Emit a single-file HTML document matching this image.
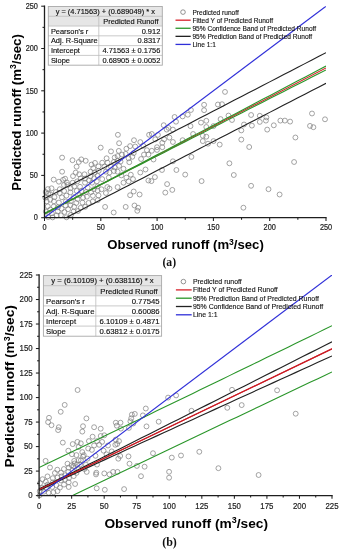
<!DOCTYPE html><html><head><meta charset="utf-8"><title>Predicted vs observed runoff</title><style>*{margin:0;padding:0}html,body{width:341px;height:550px;overflow:hidden;background:#fff}
svg{display:block;filter:blur(0.3px)}
text{font-family:"Liberation Sans",Arial,sans-serif}
.tk{fill:#222;stroke:#222;stroke-width:0.18px}
.tb{fill:#111;stroke:#111;stroke-width:0.15px}
.lg{fill:#111;stroke:#111;stroke-width:0.12px}
.ti{font-weight:bold;fill:#000}
.cap{font-family:"Liberation Serif",serif;font-size:11.4px;font-weight:bold;fill:#111}
</style></head><body><svg width="341" height="550" viewBox="0 0 341 550">
<defs><clipPath id="ca"><rect x="44.50" y="6.20" width="281.50" height="211.50"/></clipPath>
<clipPath id="cb"><rect x="39.10" y="275.00" width="292.90" height="220.60"/></clipPath></defs>
<rect width="341" height="550" fill="#fff"/>
<g fill="none" stroke="#7c7c7c" stroke-width="0.7">
<circle cx="251.1" cy="115.0" r="2.45"/>
<circle cx="259.8" cy="115.8" r="2.45"/>
<circle cx="266.4" cy="117.4" r="2.45"/>
<circle cx="244.0" cy="124.5" r="2.45"/>
<circle cx="251.9" cy="125.6" r="2.45"/>
<circle cx="259.8" cy="121.9" r="2.45"/>
<circle cx="265.9" cy="120.6" r="2.45"/>
<circle cx="273.8" cy="125.3" r="2.45"/>
<circle cx="280.4" cy="120.6" r="2.45"/>
<circle cx="284.9" cy="120.6" r="2.45"/>
<circle cx="290.1" cy="121.6" r="2.45"/>
<circle cx="267.2" cy="129.6" r="2.45"/>
<circle cx="241.3" cy="130.4" r="2.45"/>
<circle cx="312.0" cy="113.5" r="2.45"/>
<circle cx="310.0" cy="125.9" r="2.45"/>
<circle cx="313.4" cy="127.2" r="2.45"/>
<circle cx="325.0" cy="119.3" r="2.45"/>
<circle cx="241.3" cy="139.6" r="2.45"/>
<circle cx="295.4" cy="137.5" r="2.45"/>
<circle cx="249.2" cy="147.0" r="2.45"/>
<circle cx="294.1" cy="162.0" r="2.45"/>
<circle cx="251.1" cy="185.8" r="2.45"/>
<circle cx="268.5" cy="189.2" r="2.45"/>
<circle cx="279.6" cy="194.5" r="2.45"/>
<circle cx="243.4" cy="207.7" r="2.45"/>
<circle cx="225.0" cy="91.9" r="2.45"/>
<circle cx="217.9" cy="104.5" r="2.45"/>
<circle cx="222.0" cy="104.2" r="2.45"/>
<circle cx="220.6" cy="119.1" r="2.45"/>
<circle cx="228.5" cy="115.6" r="2.45"/>
<circle cx="232.0" cy="120.0" r="2.45"/>
<circle cx="213.5" cy="126.1" r="2.45"/>
<circle cx="219.7" cy="144.6" r="2.45"/>
<circle cx="213.5" cy="141.1" r="2.45"/>
<circle cx="229.4" cy="163.3" r="2.45"/>
<circle cx="233.8" cy="175.0" r="2.45"/>
<circle cx="204.1" cy="104.8" r="2.45"/>
<circle cx="204.1" cy="110.2" r="2.45"/>
<circle cx="190.9" cy="110.0" r="2.45"/>
<circle cx="187.8" cy="114.7" r="2.45"/>
<circle cx="182.6" cy="116.4" r="2.45"/>
<circle cx="174.6" cy="117.0" r="2.45"/>
<circle cx="176.0" cy="121.7" r="2.45"/>
<circle cx="163.7" cy="125.2" r="2.45"/>
<circle cx="168.5" cy="127.9" r="2.45"/>
<circle cx="172.9" cy="129.6" r="2.45"/>
<circle cx="166.7" cy="129.6" r="2.45"/>
<circle cx="201.0" cy="122.6" r="2.45"/>
<circle cx="206.3" cy="120.8" r="2.45"/>
<circle cx="206.3" cy="127.0" r="2.45"/>
<circle cx="190.5" cy="126.1" r="2.45"/>
<circle cx="193.1" cy="134.0" r="2.45"/>
<circle cx="151.8" cy="134.0" r="2.45"/>
<circle cx="157.9" cy="134.9" r="2.45"/>
<circle cx="155.3" cy="139.3" r="2.45"/>
<circle cx="164.1" cy="139.3" r="2.45"/>
<circle cx="162.3" cy="142.8" r="2.45"/>
<circle cx="169.4" cy="137.6" r="2.45"/>
<circle cx="172.9" cy="142.0" r="2.45"/>
<circle cx="182.6" cy="140.2" r="2.45"/>
<circle cx="202.8" cy="135.8" r="2.45"/>
<circle cx="206.3" cy="136.7" r="2.45"/>
<circle cx="202.8" cy="141.1" r="2.45"/>
<circle cx="157.0" cy="147.2" r="2.45"/>
<circle cx="162.3" cy="147.2" r="2.45"/>
<circle cx="151.8" cy="150.8" r="2.45"/>
<circle cx="157.0" cy="149.9" r="2.45"/>
<circle cx="153.5" cy="159.5" r="2.45"/>
<circle cx="191.4" cy="156.9" r="2.45"/>
<circle cx="172.9" cy="161.3" r="2.45"/>
<circle cx="208.0" cy="143.7" r="2.45"/>
<circle cx="162.0" cy="170.0" r="2.45"/>
<circle cx="176.4" cy="170.0" r="2.45"/>
<circle cx="185.2" cy="174.6" r="2.45"/>
<circle cx="154.9" cy="177.1" r="2.45"/>
<circle cx="151.4" cy="181.1" r="2.45"/>
<circle cx="167.1" cy="184.1" r="2.45"/>
<circle cx="172.3" cy="189.9" r="2.45"/>
<circle cx="165.3" cy="192.6" r="2.45"/>
<circle cx="201.6" cy="181.1" r="2.45"/>
<circle cx="117.9" cy="134.8" r="2.45"/>
<circle cx="119.1" cy="143.2" r="2.45"/>
<circle cx="100.7" cy="147.6" r="2.45"/>
<circle cx="134.0" cy="140.2" r="2.45"/>
<circle cx="140.3" cy="142.1" r="2.45"/>
<circle cx="149.1" cy="134.8" r="2.45"/>
<circle cx="111.0" cy="151.4" r="2.45"/>
<circle cx="118.8" cy="150.9" r="2.45"/>
<circle cx="126.4" cy="148.7" r="2.45"/>
<circle cx="130.1" cy="146.1" r="2.45"/>
<circle cx="135.2" cy="146.5" r="2.45"/>
<circle cx="143.3" cy="145.8" r="2.45"/>
<circle cx="146.9" cy="150.2" r="2.45"/>
<circle cx="106.6" cy="158.3" r="2.45"/>
<circle cx="102.2" cy="162.7" r="2.45"/>
<circle cx="107.6" cy="162.7" r="2.45"/>
<circle cx="114.7" cy="157.5" r="2.45"/>
<circle cx="117.6" cy="156.1" r="2.45"/>
<circle cx="122.0" cy="154.6" r="2.45"/>
<circle cx="125.7" cy="153.9" r="2.45"/>
<circle cx="132.3" cy="156.8" r="2.45"/>
<circle cx="133.7" cy="153.1" r="2.45"/>
<circle cx="128.6" cy="158.3" r="2.45"/>
<circle cx="144.0" cy="154.6" r="2.45"/>
<circle cx="141.1" cy="159.0" r="2.45"/>
<circle cx="148.4" cy="154.6" r="2.45"/>
<circle cx="120.5" cy="161.6" r="2.45"/>
<circle cx="113.9" cy="161.9" r="2.45"/>
<circle cx="117.6" cy="160.7" r="2.45"/>
<circle cx="104.4" cy="166.6" r="2.45"/>
<circle cx="111.0" cy="166.6" r="2.45"/>
<circle cx="114.7" cy="167.3" r="2.45"/>
<circle cx="119.1" cy="165.9" r="2.45"/>
<circle cx="123.5" cy="168.8" r="2.45"/>
<circle cx="105.9" cy="171.7" r="2.45"/>
<circle cx="109.5" cy="172.5" r="2.45"/>
<circle cx="113.9" cy="171.0" r="2.45"/>
<circle cx="117.6" cy="171.7" r="2.45"/>
<circle cx="121.3" cy="175.4" r="2.45"/>
<circle cx="102.2" cy="179.1" r="2.45"/>
<circle cx="108.8" cy="177.6" r="2.45"/>
<circle cx="101.5" cy="189.3" r="2.45"/>
<circle cx="107.3" cy="187.1" r="2.45"/>
<circle cx="109.5" cy="188.6" r="2.45"/>
<circle cx="105.9" cy="193.0" r="2.45"/>
<circle cx="117.6" cy="187.1" r="2.45"/>
<circle cx="123.5" cy="182.7" r="2.45"/>
<circle cx="128.6" cy="181.3" r="2.45"/>
<circle cx="130.8" cy="174.7" r="2.45"/>
<circle cx="133.0" cy="179.1" r="2.45"/>
<circle cx="126.4" cy="177.6" r="2.45"/>
<circle cx="140.3" cy="172.5" r="2.45"/>
<circle cx="145.5" cy="169.5" r="2.45"/>
<circle cx="148.4" cy="180.5" r="2.45"/>
<circle cx="130.1" cy="195.2" r="2.45"/>
<circle cx="133.7" cy="191.5" r="2.45"/>
<circle cx="139.6" cy="194.5" r="2.45"/>
<circle cx="105.1" cy="206.9" r="2.45"/>
<circle cx="125.7" cy="206.9" r="2.45"/>
<circle cx="134.5" cy="205.5" r="2.45"/>
<circle cx="138.1" cy="207.7" r="2.45"/>
<circle cx="129.3" cy="162.2" r="2.45"/>
<circle cx="113.7" cy="212.5" r="2.45"/>
<circle cx="137.3" cy="210.8" r="2.45"/>
<circle cx="62.1" cy="157.6" r="2.45"/>
<circle cx="72.5" cy="160.2" r="2.45"/>
<circle cx="78.8" cy="162.0" r="2.45"/>
<circle cx="81.3" cy="159.4" r="2.45"/>
<circle cx="85.7" cy="160.8" r="2.45"/>
<circle cx="76.6" cy="166.7" r="2.45"/>
<circle cx="62.1" cy="171.7" r="2.45"/>
<circle cx="73.0" cy="176.1" r="2.45"/>
<circle cx="75.7" cy="172.6" r="2.45"/>
<circle cx="79.2" cy="174.3" r="2.45"/>
<circle cx="84.5" cy="174.3" r="2.45"/>
<circle cx="91.5" cy="164.6" r="2.45"/>
<circle cx="95.0" cy="162.9" r="2.45"/>
<circle cx="93.3" cy="168.2" r="2.45"/>
<circle cx="98.5" cy="166.4" r="2.45"/>
<circle cx="53.7" cy="179.6" r="2.45"/>
<circle cx="65.1" cy="178.7" r="2.45"/>
<circle cx="90.6" cy="171.7" r="2.45"/>
<circle cx="58.9" cy="181.7" r="2.45"/>
<circle cx="66.9" cy="182.5" r="2.45"/>
<circle cx="47.9" cy="189.1" r="2.45"/>
<circle cx="51.5" cy="188.3" r="2.45"/>
<circle cx="45.7" cy="192.0" r="2.45"/>
<circle cx="55.9" cy="192.0" r="2.45"/>
<circle cx="63.1" cy="179.8" r="2.45"/>
<circle cx="48.2" cy="193.4" r="2.45"/>
<circle cx="50.4" cy="194.3" r="2.45"/>
<circle cx="64.0" cy="185.0" r="2.45"/>
<circle cx="67.5" cy="185.0" r="2.45"/>
<circle cx="74.2" cy="186.5" r="2.45"/>
<circle cx="68.1" cy="209.2" r="2.45"/>
<circle cx="98.7" cy="170.8" r="2.45"/>
<circle cx="92.1" cy="182.7" r="2.45"/>
<circle cx="61.6" cy="208.7" r="2.45"/>
<circle cx="54.5" cy="197.1" r="2.45"/>
<circle cx="80.0" cy="186.8" r="2.45"/>
<circle cx="61.9" cy="197.3" r="2.45"/>
<circle cx="88.6" cy="202.9" r="2.45"/>
<circle cx="73.6" cy="211.6" r="2.45"/>
<circle cx="85.0" cy="182.7" r="2.45"/>
<circle cx="46.7" cy="201.4" r="2.45"/>
<circle cx="86.9" cy="196.7" r="2.45"/>
<circle cx="83.1" cy="197.7" r="2.45"/>
<circle cx="76.7" cy="190.9" r="2.45"/>
<circle cx="70.8" cy="201.2" r="2.45"/>
<circle cx="65.9" cy="201.4" r="2.45"/>
<circle cx="47.8" cy="206.3" r="2.45"/>
<circle cx="64.4" cy="212.0" r="2.45"/>
<circle cx="97.7" cy="175.9" r="2.45"/>
<circle cx="77.2" cy="181.4" r="2.45"/>
<circle cx="50.2" cy="199.7" r="2.45"/>
<circle cx="45.9" cy="211.5" r="2.45"/>
<circle cx="70.4" cy="192.3" r="2.45"/>
<circle cx="90.5" cy="176.4" r="2.45"/>
<circle cx="53.8" cy="206.5" r="2.45"/>
<circle cx="74.1" cy="206.8" r="2.45"/>
<circle cx="58.9" cy="202.6" r="2.45"/>
<circle cx="97.6" cy="190.5" r="2.45"/>
<circle cx="97.5" cy="186.4" r="2.45"/>
<circle cx="91.1" cy="192.1" r="2.45"/>
<circle cx="80.7" cy="207.8" r="2.45"/>
<circle cx="86.1" cy="192.0" r="2.45"/>
<circle cx="51.8" cy="213.3" r="2.45"/>
<circle cx="64.1" cy="191.0" r="2.45"/>
<circle cx="71.0" cy="214.8" r="2.45"/>
<circle cx="96.8" cy="181.3" r="2.45"/>
<circle cx="56.7" cy="215.4" r="2.45"/>
<circle cx="48.1" cy="217.0" r="2.45"/>
<circle cx="76.2" cy="203.0" r="2.45"/>
<circle cx="92.8" cy="201.5" r="2.45"/>
<circle cx="98.5" cy="195.4" r="2.45"/>
<circle cx="82.4" cy="202.6" r="2.45"/>
<circle cx="50.3" cy="209.6" r="2.45"/>
<circle cx="85.0" cy="178.6" r="2.45"/>
<circle cx="94.1" cy="178.3" r="2.45"/>
<circle cx="73.6" cy="197.2" r="2.45"/>
<circle cx="97.7" cy="200.2" r="2.45"/>
<circle cx="60.9" cy="215.3" r="2.45"/>
<circle cx="66.5" cy="217.3" r="2.45"/>
<circle cx="77.6" cy="199.0" r="2.45"/>
<circle cx="80.7" cy="178.5" r="2.45"/>
<circle cx="66.4" cy="195.6" r="2.45"/>
<circle cx="85.2" cy="206.8" r="2.45"/>
<circle cx="92.9" cy="195.8" r="2.45"/>
<circle cx="87.7" cy="187.6" r="2.45"/>
<circle cx="81.5" cy="191.0" r="2.45"/>
<circle cx="65.7" cy="205.5" r="2.45"/>
<circle cx="93.8" cy="189.2" r="2.45"/>
<circle cx="53.9" cy="201.3" r="2.45"/>
<circle cx="45.3" cy="197.7" r="2.45"/>
<circle cx="59.7" cy="193.1" r="2.45"/>
<circle cx="78.0" cy="211.0" r="2.45"/>
<circle cx="79.4" cy="195.2" r="2.45"/>
<circle cx="57.8" cy="211.4" r="2.45"/>
<circle cx="70.6" cy="188.2" r="2.45"/>
<circle cx="94.5" cy="172.5" r="2.45"/>
<circle cx="72.7" cy="182.7" r="2.45"/>
<circle cx="57.9" cy="207.3" r="2.45"/>
<circle cx="59.8" cy="189.2" r="2.45"/>
<circle cx="70.4" cy="205.1" r="2.45"/>
<circle cx="89.0" cy="180.2" r="2.45"/>
<circle cx="52.6" cy="217.4" r="2.45"/>
</g>
<g clip-path="url(#ca)">
<line x1="44.50" y1="213.71" x2="326.00" y2="67.98" stroke="#d8202a" stroke-width="1.1"/>
<polyline points="44.50,213.36 51.54,209.76 58.58,206.16 65.61,202.56 72.65,198.95 79.69,195.32 86.72,191.68 93.76,188.02 100.80,184.35 107.84,180.67 114.88,176.98 121.91,173.29 128.95,169.60 135.99,165.90 143.03,162.21 150.06,158.51 157.10,154.82 164.14,151.12 171.18,147.42 178.21,143.72 185.25,140.03 192.29,136.33 199.32,132.63 206.36,128.93 213.40,125.23 220.44,121.54 227.47,117.84 234.51,114.14 241.55,110.44 248.59,106.74 255.62,103.04 262.66,99.35 269.70,95.65 276.74,91.95 283.77,88.25 290.81,84.55 297.85,80.85 304.89,77.16 311.93,73.46 318.96,69.76 326.00,66.06" fill="none" stroke="#2a962a" stroke-width="1.1"/>
<polyline points="44.50,214.06 51.54,210.37 58.58,206.69 65.61,203.00 72.65,199.33 79.69,195.67 86.72,192.02 93.76,188.39 100.80,184.78 107.84,181.17 114.88,177.57 121.91,173.98 128.95,170.38 135.99,166.79 143.03,163.20 150.06,159.61 157.10,156.02 164.14,152.43 171.18,148.84 178.21,145.25 185.25,141.66 192.29,138.07 199.32,134.48 206.36,130.89 213.40,127.31 220.44,123.72 227.47,120.13 234.51,116.54 241.55,112.95 248.59,109.36 255.62,105.78 262.66,102.19 269.70,98.60 276.74,95.01 283.77,91.42 290.81,87.83 297.85,84.25 304.89,80.66 311.93,77.07 318.96,73.48 326.00,69.89" fill="none" stroke="#2a962a" stroke-width="1.1"/>
<polyline points="44.50,198.52 51.54,194.88 58.58,191.24 65.61,187.59 72.65,183.95 79.69,180.31 86.72,176.66 93.76,173.02 100.80,169.38 107.84,165.73 114.88,162.09 121.91,158.44 128.95,154.80 135.99,151.15 143.03,147.51 150.06,143.86 157.10,140.22 164.14,136.57 171.18,132.93 178.21,129.28 185.25,125.64 192.29,121.99 199.32,118.34 206.36,114.70 213.40,111.05 220.44,107.40 227.47,103.75 234.51,100.11 241.55,96.46 248.59,92.81 255.62,89.16 262.66,85.51 269.70,81.87 276.74,78.22 283.77,74.57 290.81,70.92 297.85,67.27 304.89,63.62 311.93,59.97 318.96,56.32 326.00,52.67" fill="none" stroke="#222222" stroke-width="1.1"/>
<polyline points="44.50,228.90 51.54,225.26 58.58,221.61 65.61,217.97 72.65,214.32 79.69,210.68 86.72,207.04 93.76,203.39 100.80,199.75 107.84,196.11 114.88,192.47 121.91,188.82 128.95,185.18 135.99,181.54 143.03,177.90 150.06,174.26 157.10,170.61 164.14,166.97 171.18,163.33 178.21,159.69 185.25,156.05 192.29,152.41 199.32,148.77 206.36,145.13 213.40,141.49 220.44,137.85 227.47,134.21 234.51,130.57 241.55,126.93 248.59,123.30 255.62,119.66 262.66,116.02 269.70,112.38 276.74,108.74 283.77,105.11 290.81,101.47 297.85,97.83 304.89,94.19 311.93,90.56 318.96,86.92 326.00,83.28" fill="none" stroke="#222222" stroke-width="1.1"/>
<line x1="44.50" y1="217.70" x2="326.00" y2="6.20" stroke="#2f2fd8" stroke-width="1.1"/>
</g>
<line x1="41.20" y1="217.70" x2="44.50" y2="217.70" stroke="#1e1e1e" stroke-width="1.05"/>
<text transform="translate(37.90 220.40) scale(1 1.14)" text-anchor="end" class="tk" style="font-size:7.35px">0</text>
<line x1="42.50" y1="196.55" x2="44.50" y2="196.55" stroke="#1e1e1e" stroke-width="1.05"/>
<line x1="41.20" y1="175.40" x2="44.50" y2="175.40" stroke="#1e1e1e" stroke-width="1.05"/>
<text transform="translate(37.90 178.10) scale(1 1.14)" text-anchor="end" class="tk" style="font-size:7.35px">50</text>
<line x1="42.50" y1="154.25" x2="44.50" y2="154.25" stroke="#1e1e1e" stroke-width="1.05"/>
<line x1="41.20" y1="133.10" x2="44.50" y2="133.10" stroke="#1e1e1e" stroke-width="1.05"/>
<text transform="translate(37.90 135.80) scale(1 1.14)" text-anchor="end" class="tk" style="font-size:7.35px">100</text>
<line x1="42.50" y1="111.95" x2="44.50" y2="111.95" stroke="#1e1e1e" stroke-width="1.05"/>
<line x1="41.20" y1="90.80" x2="44.50" y2="90.80" stroke="#1e1e1e" stroke-width="1.05"/>
<text transform="translate(37.90 93.50) scale(1 1.14)" text-anchor="end" class="tk" style="font-size:7.35px">150</text>
<line x1="42.50" y1="69.65" x2="44.50" y2="69.65" stroke="#1e1e1e" stroke-width="1.05"/>
<line x1="41.20" y1="48.50" x2="44.50" y2="48.50" stroke="#1e1e1e" stroke-width="1.05"/>
<text transform="translate(37.90 51.20) scale(1 1.14)" text-anchor="end" class="tk" style="font-size:7.35px">200</text>
<line x1="42.50" y1="27.35" x2="44.50" y2="27.35" stroke="#1e1e1e" stroke-width="1.05"/>
<line x1="41.20" y1="6.20" x2="44.50" y2="6.20" stroke="#1e1e1e" stroke-width="1.05"/>
<text transform="translate(37.90 8.90) scale(1 1.14)" text-anchor="end" class="tk" style="font-size:7.35px">250</text>
<line x1="44.50" y1="217.70" x2="44.50" y2="221.00" stroke="#1e1e1e" stroke-width="1.05"/>
<text transform="translate(44.50 230.30) scale(1 1.14)" text-anchor="middle" class="tk" style="font-size:7.35px">0</text>
<line x1="72.65" y1="217.70" x2="72.65" y2="219.70" stroke="#1e1e1e" stroke-width="1.05"/>
<line x1="100.80" y1="217.70" x2="100.80" y2="221.00" stroke="#1e1e1e" stroke-width="1.05"/>
<text transform="translate(100.80 230.30) scale(1 1.14)" text-anchor="middle" class="tk" style="font-size:7.35px">50</text>
<line x1="128.95" y1="217.70" x2="128.95" y2="219.70" stroke="#1e1e1e" stroke-width="1.05"/>
<line x1="157.10" y1="217.70" x2="157.10" y2="221.00" stroke="#1e1e1e" stroke-width="1.05"/>
<text transform="translate(157.10 230.30) scale(1 1.14)" text-anchor="middle" class="tk" style="font-size:7.35px">100</text>
<line x1="185.25" y1="217.70" x2="185.25" y2="219.70" stroke="#1e1e1e" stroke-width="1.05"/>
<line x1="213.40" y1="217.70" x2="213.40" y2="221.00" stroke="#1e1e1e" stroke-width="1.05"/>
<text transform="translate(213.40 230.30) scale(1 1.14)" text-anchor="middle" class="tk" style="font-size:7.35px">150</text>
<line x1="241.55" y1="217.70" x2="241.55" y2="219.70" stroke="#1e1e1e" stroke-width="1.05"/>
<line x1="269.70" y1="217.70" x2="269.70" y2="221.00" stroke="#1e1e1e" stroke-width="1.05"/>
<text transform="translate(269.70 230.30) scale(1 1.14)" text-anchor="middle" class="tk" style="font-size:7.35px">200</text>
<line x1="297.85" y1="217.70" x2="297.85" y2="219.70" stroke="#1e1e1e" stroke-width="1.05"/>
<line x1="326.00" y1="217.70" x2="326.00" y2="221.00" stroke="#1e1e1e" stroke-width="1.05"/>
<text transform="translate(326.00 230.30) scale(1 1.14)" text-anchor="middle" class="tk" style="font-size:7.35px">250</text>
<path d="M44.50 6.20 V217.70 H326.00" fill="none" stroke="#1e1e1e" stroke-width="1.3" stroke-linecap="square"/>
<rect x="48.30" y="6.50" width="114.00" height="19.56" fill="#e6e6e6"/>
<rect x="48.30" y="26.06" width="114.00" height="39.12" fill="#fff"/>
<line x1="48.30" y1="16.28" x2="162.30" y2="16.28" stroke="#bcbcbc" stroke-width="0.8"/>
<line x1="48.30" y1="26.06" x2="162.30" y2="26.06" stroke="#bcbcbc" stroke-width="0.8"/>
<line x1="48.30" y1="35.84" x2="162.30" y2="35.84" stroke="#bcbcbc" stroke-width="0.8"/>
<line x1="48.30" y1="45.62" x2="162.30" y2="45.62" stroke="#bcbcbc" stroke-width="0.8"/>
<line x1="48.30" y1="55.40" x2="162.30" y2="55.40" stroke="#bcbcbc" stroke-width="0.8"/>
<line x1="98.80" y1="16.28" x2="98.80" y2="65.18" stroke="#bcbcbc" stroke-width="0.8"/>
<rect x="48.30" y="6.50" width="114.00" height="58.68" fill="none" stroke="#a8a8a8" stroke-width="0.9"/>
<text x="105.30" y="14.13" text-anchor="middle" class="tb" style="font-size:7.45px">y = (4.71563) + (0.689049) * x</text>
<text x="130.85" y="23.91" text-anchor="middle" class="tb" style="font-size:7.45px">Predicted Runoff</text>
<text x="50.90" y="33.69" class="tb" style="font-size:7.45px">Pearson's r</text>
<text x="160.30" y="33.69" text-anchor="end" class="tb" style="font-size:7.45px">0.912</text>
<text x="50.90" y="43.47" class="tb" style="font-size:7.45px">Adj. R-Square</text>
<text x="160.30" y="43.47" text-anchor="end" class="tb" style="font-size:7.45px">0.8317</text>
<text x="50.90" y="53.25" class="tb" style="font-size:7.45px">Intercept</text>
<text x="160.30" y="53.25" text-anchor="end" class="tb" style="font-size:7.45px">4.71563 ± 0.1756</text>
<text x="50.90" y="63.03" class="tb" style="font-size:7.45px">Slope</text>
<text x="160.30" y="63.03" text-anchor="end" class="tb" style="font-size:7.45px">0.68905 ± 0.0052</text>
<circle cx="183.00" cy="12.10" r="2.3" fill="none" stroke="#707070" stroke-width="0.75"/>
<text x="192.40" y="14.80" class="lg" style="font-size:6.6px">Predicted runoff</text>
<line x1="175.50" y1="20.18" x2="190.70" y2="20.18" stroke="#d8202a" stroke-width="1.3"/>
<text x="192.40" y="22.88" class="lg" style="font-size:6.6px">Fitted Y of Predicted Runoff</text>
<line x1="175.50" y1="28.26" x2="190.70" y2="28.26" stroke="#2a962a" stroke-width="1.3"/>
<text x="192.40" y="30.96" class="lg" style="font-size:6.6px">95% Confidence Band of Predicted Runoff</text>
<line x1="175.50" y1="36.34" x2="190.70" y2="36.34" stroke="#222222" stroke-width="1.3"/>
<text x="192.40" y="39.04" class="lg" style="font-size:6.6px">95% Prediction Band of Predicted Runoff</text>
<line x1="175.50" y1="44.42" x2="190.70" y2="44.42" stroke="#2f2fd8" stroke-width="1.3"/>
<text x="192.40" y="47.12" class="lg" style="font-size:6.6px">Line 1:1</text>
<g fill="none" stroke="#7c7c7c" stroke-width="0.7">
<circle cx="77.6" cy="390.0" r="2.45"/>
<circle cx="64.7" cy="404.9" r="2.45"/>
<circle cx="60.7" cy="411.8" r="2.45"/>
<circle cx="49.0" cy="417.8" r="2.45"/>
<circle cx="48.1" cy="422.1" r="2.45"/>
<circle cx="51.5" cy="425.2" r="2.45"/>
<circle cx="58.8" cy="427.2" r="2.45"/>
<circle cx="86.4" cy="418.4" r="2.45"/>
<circle cx="83.0" cy="426.2" r="2.45"/>
<circle cx="58.1" cy="430.1" r="2.45"/>
<circle cx="82.3" cy="431.6" r="2.45"/>
<circle cx="62.8" cy="442.6" r="2.45"/>
<circle cx="72.7" cy="444.1" r="2.45"/>
<circle cx="77.4" cy="441.9" r="2.45"/>
<circle cx="80.8" cy="443.3" r="2.45"/>
<circle cx="78.6" cy="447.0" r="2.45"/>
<circle cx="68.3" cy="450.7" r="2.45"/>
<circle cx="72.0" cy="454.3" r="2.45"/>
<circle cx="76.4" cy="455.1" r="2.45"/>
<circle cx="82.3" cy="452.1" r="2.45"/>
<circle cx="83.0" cy="456.5" r="2.45"/>
<circle cx="45.6" cy="460.9" r="2.45"/>
<circle cx="50.0" cy="467.5" r="2.45"/>
<circle cx="57.3" cy="469.7" r="2.45"/>
<circle cx="63.9" cy="469.0" r="2.45"/>
<circle cx="74.2" cy="460.9" r="2.45"/>
<circle cx="78.6" cy="460.2" r="2.45"/>
<circle cx="73.5" cy="466.1" r="2.45"/>
<circle cx="77.1" cy="464.6" r="2.45"/>
<circle cx="61.0" cy="472.7" r="2.45"/>
<circle cx="68.3" cy="471.9" r="2.45"/>
<circle cx="85.9" cy="464.6" r="2.45"/>
<circle cx="84.5" cy="469.0" r="2.45"/>
<circle cx="68.7" cy="467.6" r="2.45"/>
<circle cx="71.6" cy="465.3" r="2.45"/>
<circle cx="74.5" cy="463.5" r="2.45"/>
<circle cx="52.8" cy="478.2" r="2.45"/>
<circle cx="57.5" cy="477.6" r="2.45"/>
<circle cx="61.6" cy="476.4" r="2.45"/>
<circle cx="65.2" cy="475.2" r="2.45"/>
<circle cx="45.8" cy="481.7" r="2.45"/>
<circle cx="47.6" cy="484.6" r="2.45"/>
<circle cx="52.2" cy="487.0" r="2.45"/>
<circle cx="56.4" cy="485.2" r="2.45"/>
<circle cx="59.9" cy="487.6" r="2.45"/>
<circle cx="57.5" cy="491.1" r="2.45"/>
<circle cx="68.7" cy="482.3" r="2.45"/>
<circle cx="68.7" cy="487.0" r="2.45"/>
<circle cx="75.1" cy="484.0" r="2.45"/>
<circle cx="44.0" cy="491.7" r="2.45"/>
<circle cx="48.7" cy="492.8" r="2.45"/>
<circle cx="53.4" cy="492.3" r="2.45"/>
<circle cx="94.1" cy="427.2" r="2.45"/>
<circle cx="100.7" cy="428.7" r="2.45"/>
<circle cx="116.8" cy="425.7" r="2.45"/>
<circle cx="92.6" cy="436.7" r="2.45"/>
<circle cx="100.7" cy="436.0" r="2.45"/>
<circle cx="104.3" cy="435.3" r="2.45"/>
<circle cx="88.9" cy="441.1" r="2.45"/>
<circle cx="97.0" cy="441.1" r="2.45"/>
<circle cx="94.1" cy="445.5" r="2.45"/>
<circle cx="99.2" cy="444.8" r="2.45"/>
<circle cx="102.1" cy="441.9" r="2.45"/>
<circle cx="108.0" cy="445.5" r="2.45"/>
<circle cx="115.3" cy="444.8" r="2.45"/>
<circle cx="119.0" cy="441.1" r="2.45"/>
<circle cx="88.2" cy="448.5" r="2.45"/>
<circle cx="91.9" cy="449.9" r="2.45"/>
<circle cx="103.6" cy="450.7" r="2.45"/>
<circle cx="111.7" cy="451.4" r="2.45"/>
<circle cx="83.8" cy="455.1" r="2.45"/>
<circle cx="87.5" cy="458.7" r="2.45"/>
<circle cx="80.9" cy="460.2" r="2.45"/>
<circle cx="80.1" cy="464.6" r="2.45"/>
<circle cx="95.5" cy="455.8" r="2.45"/>
<circle cx="106.5" cy="454.3" r="2.45"/>
<circle cx="97.0" cy="464.6" r="2.45"/>
<circle cx="118.3" cy="458.7" r="2.45"/>
<circle cx="86.7" cy="471.9" r="2.45"/>
<circle cx="96.3" cy="472.7" r="2.45"/>
<circle cx="104.3" cy="473.4" r="2.45"/>
<circle cx="113.1" cy="471.9" r="2.45"/>
<circle cx="117.5" cy="471.9" r="2.45"/>
<circle cx="76.5" cy="472.9" r="2.45"/>
<circle cx="96.0" cy="474.4" r="2.45"/>
<circle cx="109.5" cy="474.4" r="2.45"/>
<circle cx="96.7" cy="488.3" r="2.45"/>
<circle cx="104.8" cy="489.8" r="2.45"/>
<circle cx="124.1" cy="489.1" r="2.45"/>
<circle cx="115.8" cy="422.7" r="2.45"/>
<circle cx="120.5" cy="422.7" r="2.45"/>
<circle cx="131.9" cy="414.6" r="2.45"/>
<circle cx="131.2" cy="418.3" r="2.45"/>
<circle cx="145.8" cy="408.5" r="2.45"/>
<circle cx="134.8" cy="413.9" r="2.45"/>
<circle cx="142.9" cy="415.4" r="2.45"/>
<circle cx="130.4" cy="421.3" r="2.45"/>
<circle cx="133.3" cy="423.5" r="2.45"/>
<circle cx="128.9" cy="427.9" r="2.45"/>
<circle cx="120.9" cy="428.6" r="2.45"/>
<circle cx="146.5" cy="426.4" r="2.45"/>
<circle cx="158.7" cy="421.7" r="2.45"/>
<circle cx="115.7" cy="439.6" r="2.45"/>
<circle cx="117.2" cy="444.0" r="2.45"/>
<circle cx="168.1" cy="397.6" r="2.45"/>
<circle cx="176.1" cy="395.4" r="2.45"/>
<circle cx="191.5" cy="410.8" r="2.45"/>
<circle cx="232.0" cy="389.8" r="2.45"/>
<circle cx="227.3" cy="407.8" r="2.45"/>
<circle cx="241.7" cy="405.1" r="2.45"/>
<circle cx="277.1" cy="390.3" r="2.45"/>
<circle cx="295.7" cy="413.7" r="2.45"/>
<circle cx="120.2" cy="456.0" r="2.45"/>
<circle cx="128.5" cy="456.4" r="2.45"/>
<circle cx="129.5" cy="463.7" r="2.45"/>
<circle cx="136.9" cy="465.9" r="2.45"/>
<circle cx="144.6" cy="466.7" r="2.45"/>
<circle cx="153.0" cy="453.2" r="2.45"/>
<circle cx="141.0" cy="476.2" r="2.45"/>
<circle cx="169.1" cy="471.8" r="2.45"/>
<circle cx="169.1" cy="477.7" r="2.45"/>
<circle cx="171.8" cy="457.6" r="2.45"/>
<circle cx="181.0" cy="455.5" r="2.45"/>
<circle cx="199.3" cy="451.8" r="2.45"/>
<circle cx="218.4" cy="468.2" r="2.45"/>
<circle cx="258.6" cy="475.0" r="2.45"/>
<circle cx="73.7" cy="476.1" r="2.45"/>
<circle cx="60.9" cy="480.4" r="2.45"/>
<circle cx="42.2" cy="487.9" r="2.45"/>
<circle cx="47.5" cy="476.4" r="2.45"/>
<circle cx="64.0" cy="484.6" r="2.45"/>
<circle cx="39.7" cy="495.3" r="2.45"/>
<circle cx="40.1" cy="483.2" r="2.45"/>
<circle cx="54.9" cy="473.0" r="2.45"/>
<circle cx="67.5" cy="463.7" r="2.45"/>
<circle cx="46.9" cy="488.7" r="2.45"/>
<circle cx="69.0" cy="478.0" r="2.45"/>
<circle cx="52.8" cy="482.4" r="2.45"/>
<circle cx="78.6" cy="469.3" r="2.45"/>
<circle cx="72.6" cy="470.4" r="2.45"/>
<circle cx="42.5" cy="479.2" r="2.45"/>
<circle cx="64.9" cy="479.6" r="2.45"/>
<circle cx="39.7" cy="491.2" r="2.45"/>
</g>
<g clip-path="url(#cb)">
<line x1="39.10" y1="489.62" x2="332.00" y2="348.85" stroke="#d8202a" stroke-width="1.1"/>
<polyline points="39.10,467.58 46.42,464.06 53.74,460.54 61.07,457.02 68.39,453.50 75.71,449.97 83.03,446.45 90.36,442.92 97.68,439.39 105.00,435.86 112.32,432.33 119.65,428.80 126.97,425.26 134.29,421.73 141.62,418.19 148.94,414.65 156.26,411.11 163.58,407.57 170.90,404.02 178.23,400.48 185.55,396.93 192.87,393.39 200.19,389.84 207.52,386.29 214.84,382.74 222.16,379.18 229.48,375.63 236.81,372.07 244.13,368.52 251.45,364.96 258.77,361.40 266.10,357.84 273.42,354.27 280.74,350.71 288.06,347.14 295.39,343.58 302.71,340.01 310.03,336.44 317.36,332.87 324.68,329.30 332.00,325.72" fill="none" stroke="#2a962a" stroke-width="1.1"/>
<polyline points="39.10,511.66 46.42,508.14 53.74,504.62 61.07,501.10 68.39,497.59 75.71,494.07 83.03,490.56 90.36,487.05 97.68,483.54 105.00,480.03 112.32,476.52 119.65,473.02 126.97,469.51 134.29,466.01 141.62,462.51 148.94,459.01 156.26,455.51 163.58,452.02 170.90,448.52 178.23,445.03 185.55,441.53 192.87,438.04 200.19,434.55 207.52,431.07 214.84,427.58 222.16,424.09 229.48,420.61 236.81,417.13 244.13,413.65 251.45,410.17 258.77,406.69 266.10,403.21 273.42,399.73 280.74,396.26 288.06,392.79 295.39,389.31 302.71,385.84 310.03,382.37 317.36,378.91 324.68,375.44 332.00,371.97" fill="none" stroke="#2a962a" stroke-width="1.1"/>
<polyline points="39.10,488.73 46.42,485.23 53.74,481.69 61.07,478.12 68.39,474.52 75.71,470.90 83.03,467.25 90.36,463.60 97.68,459.94 105.00,456.27 112.32,452.59 119.65,448.91 126.97,445.23 134.29,441.55 141.62,437.86 148.94,434.17 156.26,430.48 163.58,426.79 170.90,423.10 178.23,419.41 185.55,415.71 192.87,412.02 200.19,408.33 207.52,404.63 214.84,400.94 222.16,397.24 229.48,393.55 236.81,389.85 244.13,386.15 251.45,382.46 258.77,378.76 266.10,375.06 273.42,371.37 280.74,367.67 288.06,363.97 295.39,360.28 302.71,356.58 310.03,352.88 317.36,349.18 324.68,345.49 332.00,341.79" fill="none" stroke="#222222" stroke-width="1.15"/>
<polyline points="39.10,490.51 46.42,486.97 53.74,483.47 61.07,480.00 68.39,476.56 75.71,473.15 83.03,469.75 90.36,466.37 97.68,462.99 105.00,459.62 112.32,456.26 119.65,452.90 126.97,449.54 134.29,446.19 141.62,442.84 148.94,439.49 156.26,436.14 163.58,432.79 170.90,429.45 178.23,426.10 185.55,422.75 192.87,419.41 200.19,416.07 207.52,412.72 214.84,409.38 222.16,406.04 229.48,402.69 236.81,399.35 244.13,396.01 251.45,392.67 258.77,389.32 266.10,385.98 273.42,382.64 280.74,379.30 288.06,375.96 295.39,372.62 302.71,369.27 310.03,365.93 317.36,362.59 324.68,359.25 332.00,355.91" fill="none" stroke="#222222" stroke-width="1.15"/>
<line x1="39.10" y1="489.62" x2="332.00" y2="348.85" stroke="#c81c24" stroke-width="1.1"/>
<line x1="39.10" y1="495.60" x2="332.00" y2="275.00" stroke="#2f2fd8" stroke-width="1.1"/>
</g>
<line x1="35.90" y1="495.60" x2="39.10" y2="495.60" stroke="#1e1e1e" stroke-width="1.05"/>
<text transform="translate(32.70 498.30) scale(1 1.1)" text-anchor="end" class="tk" style="font-size:7.85px">0</text>
<line x1="37.10" y1="483.34" x2="39.10" y2="483.34" stroke="#1e1e1e" stroke-width="1.05"/>
<line x1="35.90" y1="471.09" x2="39.10" y2="471.09" stroke="#1e1e1e" stroke-width="1.05"/>
<text transform="translate(32.70 473.79) scale(1 1.1)" text-anchor="end" class="tk" style="font-size:7.85px">25</text>
<line x1="37.10" y1="458.83" x2="39.10" y2="458.83" stroke="#1e1e1e" stroke-width="1.05"/>
<line x1="35.90" y1="446.58" x2="39.10" y2="446.58" stroke="#1e1e1e" stroke-width="1.05"/>
<text transform="translate(32.70 449.28) scale(1 1.1)" text-anchor="end" class="tk" style="font-size:7.85px">50</text>
<line x1="37.10" y1="434.32" x2="39.10" y2="434.32" stroke="#1e1e1e" stroke-width="1.05"/>
<line x1="35.90" y1="422.07" x2="39.10" y2="422.07" stroke="#1e1e1e" stroke-width="1.05"/>
<text transform="translate(32.70 424.77) scale(1 1.1)" text-anchor="end" class="tk" style="font-size:7.85px">75</text>
<line x1="37.10" y1="409.81" x2="39.10" y2="409.81" stroke="#1e1e1e" stroke-width="1.05"/>
<line x1="35.90" y1="397.56" x2="39.10" y2="397.56" stroke="#1e1e1e" stroke-width="1.05"/>
<text transform="translate(32.70 400.26) scale(1 1.1)" text-anchor="end" class="tk" style="font-size:7.85px">100</text>
<line x1="37.10" y1="385.30" x2="39.10" y2="385.30" stroke="#1e1e1e" stroke-width="1.05"/>
<line x1="35.90" y1="373.04" x2="39.10" y2="373.04" stroke="#1e1e1e" stroke-width="1.05"/>
<text transform="translate(32.70 375.74) scale(1 1.1)" text-anchor="end" class="tk" style="font-size:7.85px">125</text>
<line x1="37.10" y1="360.79" x2="39.10" y2="360.79" stroke="#1e1e1e" stroke-width="1.05"/>
<line x1="35.90" y1="348.53" x2="39.10" y2="348.53" stroke="#1e1e1e" stroke-width="1.05"/>
<text transform="translate(32.70 351.23) scale(1 1.1)" text-anchor="end" class="tk" style="font-size:7.85px">150</text>
<line x1="37.10" y1="336.28" x2="39.10" y2="336.28" stroke="#1e1e1e" stroke-width="1.05"/>
<line x1="35.90" y1="324.02" x2="39.10" y2="324.02" stroke="#1e1e1e" stroke-width="1.05"/>
<text transform="translate(32.70 326.72) scale(1 1.1)" text-anchor="end" class="tk" style="font-size:7.85px">175</text>
<line x1="37.10" y1="311.77" x2="39.10" y2="311.77" stroke="#1e1e1e" stroke-width="1.05"/>
<line x1="35.90" y1="299.51" x2="39.10" y2="299.51" stroke="#1e1e1e" stroke-width="1.05"/>
<text transform="translate(32.70 302.21) scale(1 1.1)" text-anchor="end" class="tk" style="font-size:7.85px">200</text>
<line x1="37.10" y1="287.26" x2="39.10" y2="287.26" stroke="#1e1e1e" stroke-width="1.05"/>
<line x1="35.90" y1="275.00" x2="39.10" y2="275.00" stroke="#1e1e1e" stroke-width="1.05"/>
<text transform="translate(32.70 277.70) scale(1 1.1)" text-anchor="end" class="tk" style="font-size:7.85px">225</text>
<line x1="39.10" y1="495.60" x2="39.10" y2="498.80" stroke="#1e1e1e" stroke-width="1.05"/>
<text transform="translate(39.10 508.70) scale(1 1.1)" text-anchor="middle" class="tk" style="font-size:7.85px">0</text>
<line x1="55.37" y1="495.60" x2="55.37" y2="497.60" stroke="#1e1e1e" stroke-width="1.05"/>
<line x1="71.64" y1="495.60" x2="71.64" y2="498.80" stroke="#1e1e1e" stroke-width="1.05"/>
<text transform="translate(71.64 508.70) scale(1 1.1)" text-anchor="middle" class="tk" style="font-size:7.85px">25</text>
<line x1="87.92" y1="495.60" x2="87.92" y2="497.60" stroke="#1e1e1e" stroke-width="1.05"/>
<line x1="104.19" y1="495.60" x2="104.19" y2="498.80" stroke="#1e1e1e" stroke-width="1.05"/>
<text transform="translate(104.19 508.70) scale(1 1.1)" text-anchor="middle" class="tk" style="font-size:7.85px">50</text>
<line x1="120.46" y1="495.60" x2="120.46" y2="497.60" stroke="#1e1e1e" stroke-width="1.05"/>
<line x1="136.73" y1="495.60" x2="136.73" y2="498.80" stroke="#1e1e1e" stroke-width="1.05"/>
<text transform="translate(136.73 508.70) scale(1 1.1)" text-anchor="middle" class="tk" style="font-size:7.85px">75</text>
<line x1="153.01" y1="495.60" x2="153.01" y2="497.60" stroke="#1e1e1e" stroke-width="1.05"/>
<line x1="169.28" y1="495.60" x2="169.28" y2="498.80" stroke="#1e1e1e" stroke-width="1.05"/>
<text transform="translate(169.28 508.70) scale(1 1.1)" text-anchor="middle" class="tk" style="font-size:7.85px">100</text>
<line x1="185.55" y1="495.60" x2="185.55" y2="497.60" stroke="#1e1e1e" stroke-width="1.05"/>
<line x1="201.82" y1="495.60" x2="201.82" y2="498.80" stroke="#1e1e1e" stroke-width="1.05"/>
<text transform="translate(201.82 508.70) scale(1 1.1)" text-anchor="middle" class="tk" style="font-size:7.85px">125</text>
<line x1="218.09" y1="495.60" x2="218.09" y2="497.60" stroke="#1e1e1e" stroke-width="1.05"/>
<line x1="234.37" y1="495.60" x2="234.37" y2="498.80" stroke="#1e1e1e" stroke-width="1.05"/>
<text transform="translate(234.37 508.70) scale(1 1.1)" text-anchor="middle" class="tk" style="font-size:7.85px">150</text>
<line x1="250.64" y1="495.60" x2="250.64" y2="497.60" stroke="#1e1e1e" stroke-width="1.05"/>
<line x1="266.91" y1="495.60" x2="266.91" y2="498.80" stroke="#1e1e1e" stroke-width="1.05"/>
<text transform="translate(266.91 508.70) scale(1 1.1)" text-anchor="middle" class="tk" style="font-size:7.85px">175</text>
<line x1="283.18" y1="495.60" x2="283.18" y2="497.60" stroke="#1e1e1e" stroke-width="1.05"/>
<line x1="299.46" y1="495.60" x2="299.46" y2="498.80" stroke="#1e1e1e" stroke-width="1.05"/>
<text transform="translate(299.46 508.70) scale(1 1.1)" text-anchor="middle" class="tk" style="font-size:7.85px">200</text>
<line x1="315.73" y1="495.60" x2="315.73" y2="497.60" stroke="#1e1e1e" stroke-width="1.05"/>
<line x1="332.00" y1="495.60" x2="332.00" y2="498.80" stroke="#1e1e1e" stroke-width="1.05"/>
<text transform="translate(332.00 508.70) scale(1 1.1)" text-anchor="middle" class="tk" style="font-size:7.85px">225</text>
<path d="M39.10 275.00 V495.60 H332.00" fill="none" stroke="#1e1e1e" stroke-width="1.3" stroke-linecap="square"/>
<rect x="43.40" y="275.60" width="118.20" height="20.20" fill="#e6e6e6"/>
<rect x="43.40" y="295.80" width="118.20" height="40.40" fill="#fff"/>
<line x1="43.40" y1="285.70" x2="161.60" y2="285.70" stroke="#bcbcbc" stroke-width="0.8"/>
<line x1="43.40" y1="295.80" x2="161.60" y2="295.80" stroke="#bcbcbc" stroke-width="0.8"/>
<line x1="43.40" y1="305.90" x2="161.60" y2="305.90" stroke="#bcbcbc" stroke-width="0.8"/>
<line x1="43.40" y1="316.00" x2="161.60" y2="316.00" stroke="#bcbcbc" stroke-width="0.8"/>
<line x1="43.40" y1="326.10" x2="161.60" y2="326.10" stroke="#bcbcbc" stroke-width="0.8"/>
<line x1="95.80" y1="285.70" x2="95.80" y2="336.20" stroke="#bcbcbc" stroke-width="0.8"/>
<rect x="43.40" y="275.60" width="118.20" height="60.60" fill="none" stroke="#a8a8a8" stroke-width="0.9"/>
<text x="102.50" y="283.48" text-anchor="middle" class="tb" style="font-size:7.72px">y = (6.10109) + (0.638116) * x</text>
<text x="129.00" y="293.58" text-anchor="middle" class="tb" style="font-size:7.72px">Predicted Runoff</text>
<text x="46.00" y="303.68" class="tb" style="font-size:7.72px">Pearson's r</text>
<text x="159.60" y="303.68" text-anchor="end" class="tb" style="font-size:7.72px">0.77545</text>
<text x="46.00" y="313.78" class="tb" style="font-size:7.72px">Adj. R-Square</text>
<text x="159.60" y="313.78" text-anchor="end" class="tb" style="font-size:7.72px">0.60086</text>
<text x="46.00" y="323.88" class="tb" style="font-size:7.72px">Intercept</text>
<text x="159.60" y="323.88" text-anchor="end" class="tb" style="font-size:7.72px">6.10109 ± 0.4871</text>
<text x="46.00" y="333.98" class="tb" style="font-size:7.72px">Slope</text>
<text x="159.60" y="333.98" text-anchor="end" class="tb" style="font-size:7.72px">0.63812 ± 0.0175</text>
<circle cx="183.40" cy="281.60" r="2.3" fill="none" stroke="#707070" stroke-width="0.75"/>
<text x="192.90" y="283.90" class="lg" style="font-size:6.95px">Predicted runoff</text>
<line x1="175.90" y1="289.90" x2="191.70" y2="289.90" stroke="#d8202a" stroke-width="1.3"/>
<text x="192.90" y="292.20" class="lg" style="font-size:6.95px">Fitted Y of Predicted Runoff</text>
<line x1="175.90" y1="298.20" x2="191.70" y2="298.20" stroke="#2a962a" stroke-width="1.3"/>
<text x="192.90" y="300.50" class="lg" style="font-size:6.95px">95% Prediction Band of Predicted Runoff</text>
<line x1="175.90" y1="306.50" x2="191.70" y2="306.50" stroke="#222222" stroke-width="1.3"/>
<text x="192.90" y="308.80" class="lg" style="font-size:6.95px">95% Confidence Band of Predicted Runoff</text>
<line x1="175.90" y1="314.80" x2="191.70" y2="314.80" stroke="#2f2fd8" stroke-width="1.3"/>
<text x="192.90" y="317.10" class="lg" style="font-size:6.95px">Line 1:1</text>
<text transform="translate(20.80 112.45) rotate(-90)" text-anchor="middle" class="ti" style="font-size:13px" textLength="156.6" lengthAdjust="spacingAndGlyphs">Predicted runoff (m<tspan style="font-size:8.45px" dy="-4.68">3</tspan><tspan dy="4.68">/sec)</tspan></text>
<text x="185.50" y="249.30" text-anchor="middle" class="ti" style="font-size:13px" textLength="156.6" lengthAdjust="spacingAndGlyphs">Observed runoff (m<tspan style="font-size:8.45px" dy="-4.68">3</tspan><tspan dy="4.68">/sec)</tspan></text>
<text transform="translate(14.40 386.30) rotate(-90)" text-anchor="middle" class="ti" style="font-size:13.5px" textLength="162.4" lengthAdjust="spacingAndGlyphs">Predicted runoff (m<tspan style="font-size:8.78px" dy="-4.86">3</tspan><tspan dy="4.86">/sec)</tspan></text>
<text x="186.20" y="528.00" text-anchor="middle" class="ti" style="font-size:13.5px" textLength="163.6" lengthAdjust="spacingAndGlyphs">Observed runoff (m<tspan style="font-size:8.78px" dy="-4.86">3</tspan><tspan dy="4.86">/sec)</tspan></text>
<text x="169.3" y="266.0" text-anchor="middle" class="cap" style="font-size:11.7px">(a)</text>
<text x="169.5" y="545.8" text-anchor="middle" class="cap" style="font-size:12px">(b)</text>
</svg></body></html>
